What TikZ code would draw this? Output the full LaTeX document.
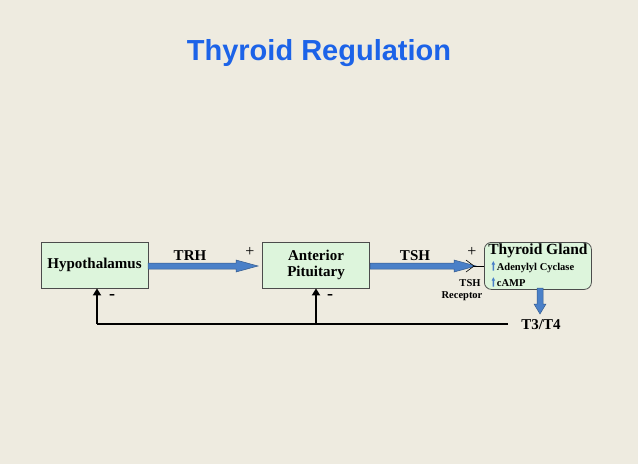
\documentclass[tikz,border=0pt]{standalone}
\usepackage{fontspec}
\setmainfont{Liberation Serif}
\newfontfamily\hsans{Liberation Sans}
\usetikzlibrary{arrows.meta,shapes.arrows}
\definecolor{bg}{HTML}{EEEBE0}
\definecolor{boxg}{HTML}{DDF5DC}
\definecolor{tblue}{HTML}{1C63E8}
\definecolor{ablue}{HTML}{4A80C8}
\newcommand{\upar}{\tikz[baseline=0pt]\fill[ablue] (1pt,0) rectangle (2.6pt,6pt) (0,6pt) -- (3.6pt,6pt) -- (1.8pt,9.5pt) -- cycle;\,}
\begin{document}
\begin{tikzpicture}[x=1pt,y=-1pt,
  box/.style={draw=black!70,fill=boxg,line width=0.8pt,font=\bfseries\fontsize{15}{16}\selectfont,align=center,minimum width=107pt,minimum height=46pt,inner sep=2pt},
  barrow/.style={draw=ablue!70!black,fill=ablue,line width=0.5pt},
  lab/.style={font=\bfseries\fontsize{15}{16}\selectfont},
  small/.style={font=\bfseries\fontsize{10.5}{11}\selectfont}]
\fill[bg] (0,0) rectangle (638,464);
\node[font=\hsans\bfseries\fontsize{29}{32}\selectfont,text=tblue] (title) at (319,53) {Thyroid Regulation};
\node[box] (hyp) at (94.5,265) {Hypothalamus};
\node[box] (ant) at (316,265) {Anterior\\Pituitary};
\node[box,rounded corners=7pt,anchor=north west,minimum height=47pt,align=left,inner sep=4pt] (thy) at (484,242) {};
\node[font=\bfseries\fontsize{15.5}{16}\selectfont] (tg) at (538,251) {Thyroid Gland};
\node[small,anchor=west] (ac) at (488,267) {\upar Adenylyl Cyclase};
\node[small,anchor=west] (camp) at (488,282) {\upar cAMP};
% block arrows
\draw[barrow] (148,263) -- (236,263) -- (236,260) -- (258,266) -- (236,272) -- (236,269) -- (148,269) -- cycle;
\draw[barrow] (370,263) -- (454,263) -- (454,260) -- (476,266) -- (454,272) -- (454,269) -- (370,269) -- cycle;
\draw[barrow] (537,288) -- (543,288) -- (543,304) -- (546,304) -- (540,314) -- (534,304) -- (537,304) -- cycle;
% receptor
\coordinate (rv) at (474,266);
\draw[line width=0.6pt] (466,260) -- (rv) -- (466,272);
\draw[line width=0.6pt] (rv) -- (thy.west|-rv);
% labels
\node[lab] (trh) at (190,256) {TRH};
\node[lab] (tsh) at (415,256) {TSH};
\node[font=\fontsize{16}{16}\selectfont] (p1) at (250,252) {+};
\node[font=\fontsize{16}{16}\selectfont] (p2) at (472,252) {+};
\node[font=\bfseries\fontsize{18}{18}\selectfont] (m1) at (112,297) {-};
\node[font=\bfseries\fontsize{18}{18}\selectfont] (m2) at (330,297) {-};
\node[small] (tshr) at (470,283) {TSH};
\node[small] (rec) at (462,296) {Receptor};
\node[lab] (t34) at (541,325) {T3/T4};
% feedback
\coordinate (fb) at (97,324);
\coordinate (fb2) at (316,324);
\draw[line width=2.2pt] (508,324) -- (fb);
\draw[line width=2.2pt,-{Triangle[length=7pt,width=8pt]}] (fb) -- (hyp.south-|fb);
\draw[line width=2.2pt,-{Triangle[length=7pt,width=8pt]}] (fb2) -- (ant.south);
\end{tikzpicture}
\end{document}
